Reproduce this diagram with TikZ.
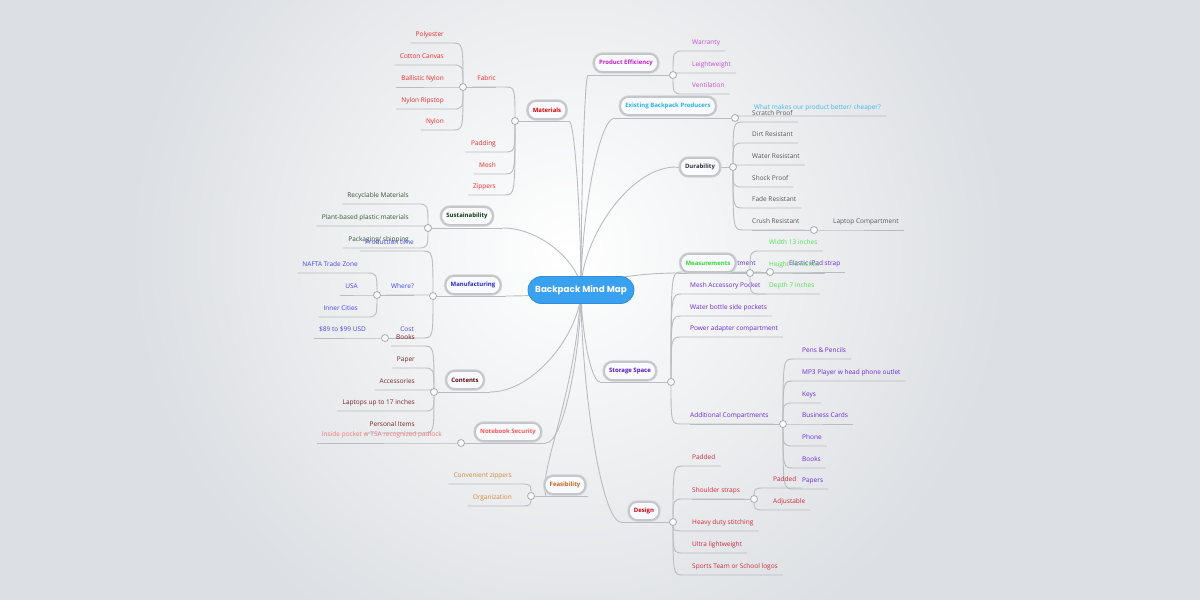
\documentclass[tikz,border=0pt]{standalone}
\usepackage{fontspec}
\setmainfont{Open Sans}
\newfontfamily\hubfont{Poppins}
\usetikzlibrary{calc,positioning}

\definecolor{r220g223b227}{RGB}{220,223,227}
\definecolor{r185g188b192}{RGB}{185,188,192}
\definecolor{r170g172b176}{RGB}{170,172,176}
\definecolor{r196g198b202}{RGB}{196,198,202}
\definecolor{r208g210b214}{RGB}{208,210,214}
\definecolor{r248g250b253}{RGB}{248,250,253}
\definecolor{r58g160b240}{RGB}{58,160,240}
\definecolor{r47g143b222}{RGB}{47,143,222}
\definecolor{r230g0b0}{RGB}{230,0,0}
\definecolor{r245g40b40}{RGB}{245,40,40}
\definecolor{r16g60b16}{RGB}{16,60,16}
\definecolor{r50g90b50}{RGB}{50,90,50}
\definecolor{r40g40b210}{RGB}{40,40,210}
\definecolor{r70g70b240}{RGB}{70,70,240}
\definecolor{r90g10b10}{RGB}{90,10,10}
\definecolor{r120g35b35}{RGB}{120,35,35}
\definecolor{r255g85b85}{RGB}{255,85,85}
\definecolor{r240g120b120}{RGB}{240,120,120}
\definecolor{r200g100b30}{RGB}{200,100,30}
\definecolor{r215g135b55}{RGB}{215,135,55}
\definecolor{r204g30b204}{RGB}{204,30,204}
\definecolor{r200g75b210}{RGB}{200,75,210}
\definecolor{r40g180b235}{RGB}{40,180,235}
\definecolor{r65g185b240}{RGB}{65,185,240}
\definecolor{r50g55b62}{RGB}{50,55,62}
\definecolor{r85g87b92}{RGB}{85,87,92}
\definecolor{r50g220b50}{RGB}{50,220,50}
\definecolor{r80g225b80}{RGB}{80,225,80}
\definecolor{r90g16b200}{RGB}{90,16,200}
\definecolor{r105g40b215}{RGB}{105,40,215}
\definecolor{r204g0b16}{RGB}{204,0,16}
\definecolor{r208g40b56}{RGB}{208,40,56}

\tikzset{
  link/.style={draw=r185g188b192,line width=0.9pt},
  knot/.style={draw=r170g172b176,fill=r248g250b253,line width=0.8pt},
  leaf/.style={inner sep=0pt,font=\fontsize{6.5}{7.5}\selectfont},
  topic/.style={draw=r196g198b202,fill=r248g250b253,line width=1.6pt,
    preaction={draw=r208g210b214,line width=3.4pt},
    rounded corners=8.5pt,minimum height=18pt,inner xsep=5pt,inner ysep=0pt,
    font=\bfseries\fontsize{6}{7}\selectfont},
  hub/.style={draw=r47g143b222,fill=r58g160b240,line width=0.8pt,text=white,
    rounded corners=13.5pt,minimum height=27pt,minimum width=106pt,inner sep=0pt,
    font=\hubfont\bfseries\fontsize{8.8}{10}\selectfont}
}

% leaf on the left of its junction: name, junction, line y, colour, text
\newcommand{\leafL}[5]{%
  \path ($(#2)+(-19,0)$) coordinate (#1-x);%
  \coordinate (#1-a) at (#1-x |- 0,#3);%
  \node[leaf,text=#4,anchor=base east] (#1) at ([yshift=7pt]#1-a) {#5};%
  \draw[link] (#1-a -| #1.west) ++(-5,0) -- ([xshift=8pt]#1-a) .. controls (#2 |- #1-a) .. (#2);%
}
% leaf on the right of its junction
\newcommand{\leafR}[5]{%
  \path ($(#2)+(19,0)$) coordinate (#1-x);%
  \coordinate (#1-a) at (#1-x |- 0,#3);%
  \node[leaf,text=#4,anchor=base west] (#1) at ([yshift=7pt]#1-a) {#5};%
  \draw[link] (#1-a -| #1.east) ++(5,0) -- ([xshift=-8pt]#1-a) .. controls (#2 |- #1-a) .. (#2);%
}
% branch from the hub to the end of a topic line
\newcommand{\trunk}[1]{%
  \draw[link] (hubc) .. controls ($(hubc)!0.4!(hubc |- #1)$) and ($(#1)!0.5!(hubc |- #1)$) .. (#1);%
}

\begin{document}
\begin{tikzpicture}[x=1pt,y=-1pt]
\useasboundingbox (0,0) rectangle (1200,600);

% Filling the background
\fill[r220g223b227] (0,0) rectangle (1200,600);
\begin{scope}
  \clip (0,0) rectangle (1200,600);
  \shade[inner color=white,outer color=r220g223b227] (568,250) circle (440);
\end{scope}

% Placing the junctions
\coordinate (hubc) at (581,290);
\coordinate (matJ) at (515,121);
\coordinate (fabJ) at (463,87);
\coordinate (susJ) at (428,228);
\coordinate (manJ) at (433,296);
\coordinate (whereJ) at (377,295);
\coordinate (costJ) at (385,338);
\coordinate (conJ) at (434,392);
\coordinate (secJ) at (461,443);
\coordinate (feaJ) at (531,496);
\coordinate (effJ) at (673,75);
\coordinate (exiJ) at (735,118);
\coordinate (durJ) at (733,167);
\coordinate (crushJ) at (814,230);
\coordinate (meaJ) at (750,273);
\coordinate (stoJ) at (671,382);
\coordinate (lapJ) at (770,272);
\coordinate (addJ) at (783,424);
\coordinate (desJ) at (673,522);
\coordinate (shoJ) at (754,499);

% Placing the ends of the topic lines
\coordinate (matE) at (569,121);
\coordinate (susE) at (503,228);
\coordinate (manE) at (506,296);
\coordinate (conE) at (490,392);
\coordinate (secE) at (546,443);
\coordinate (feaE) at (546,496);
\coordinate (effE) at (588,75);
\coordinate (exiE) at (615,118);
\coordinate (durE) at (676,167);
\coordinate (meaE) at (678,273);
\coordinate (stoE) at (600,382);
\coordinate (desE) at (621,522);

% Drawing the branches from the hub
\trunk{matE} \trunk{susE} \trunk{manE} \trunk{conE} \trunk{secE}
\trunk{effE} \trunk{exiE} \trunk{durE} \trunk{meaE} \trunk{stoE} \trunk{desE}
\draw[link] (hubc) .. controls (575,400) and (538,470) .. (feaE);

% Drawing the topic lines
\draw[link] (matJ) -- (matE);
\draw[link] (susJ) -- (susE);
\draw[link] (manJ) -- (manE);
\draw[link] (conJ) -- (conE);
\draw[link] (secJ) -- (secE);
\draw[link] (feaJ) -- (588,496);
\draw[link] (effE) -- (effJ);
\draw[link] (exiE) -- (exiJ);
\draw[link] (durE) -- (durJ);
\draw[link] (meaE) -- (meaJ);
\draw[link] (stoE) -- (stoJ);
\draw[link] (desE) -- (desJ);

% Leaves of Materials
\leafL{fabric}{matJ}{87}{r245g40b40}{Fabric}
\draw[link] (fabJ) -- (fabric-a);
\leafL{padding}{matJ}{152}{r245g40b40}{Padding}
\leafL{mesh}{matJ}{174}{r245g40b40}{Mesh}
\leafL{zippers}{matJ}{195}{r245g40b40}{Zippers}
\leafL{polyester}{fabJ}{43}{r245g40b40}{Polyester}
\leafL{canvas}{fabJ}{65}{r245g40b40}{Cotton Canvas}
\leafL{ballistic}{fabJ}{87}{r245g40b40}{Ballistic Nylon}
\leafL{ripstop}{fabJ}{109}{r245g40b40}{Nylon Ripstop}
\leafL{nylon}{fabJ}{130}{r245g40b40}{Nylon}

% Leaves of Sustainability
\leafL{recyclable}{susJ}{204}{r50g90b50}{Recyclable Materials}
\leafL{plantbased}{susJ}{226}{r50g90b50}{Plant-based plastic materials}
\leafL{packaging}{susJ}{248}{r50g90b50}{Packaging/ shipping}

% Leaves of Manufacturing
\leafL{prodtime}{manJ}{251}{r70g70b240}{Production time}
\leafL{where}{manJ}{295}{r70g70b240}{Where?}
\draw[link] (whereJ) -- (where-a);
\leafL{cost}{manJ}{338}{r70g70b240}{Cost}
\draw[link] (costJ) -- (cost-a);
\leafL{nafta}{whereJ}{273}{r70g70b240}{NAFTA Trade Zone}
\leafL{usa}{whereJ}{295}{r70g70b240}{USA}
\leafL{cities}{whereJ}{317}{r70g70b240}{Inner Cities}
\leafL{usd}{costJ}{338}{r70g70b240}{\$89 to \$99 USD}

% Leaves of Contents
\leafL{books}{conJ}{346}{r120g35b35}{Books}
\leafL{paper}{conJ}{368}{r120g35b35}{Paper}
\leafL{accessories}{conJ}{390}{r120g35b35}{Accessories}
\leafL{laptops}{conJ}{411}{r120g35b35}{Laptops up to 17 inches}
\leafL{personal}{conJ}{433}{r120g35b35}{Personal Items}

% Leaves of Notebook Security and Feasibility
\leafL{padlock}{secJ}{443}{r240g120b120}{Inside pocket w TSA recognized padlock}
\leafL{convzip}{feaJ}{484}{r215g135b55}{Convenient zippers}
\leafL{organization}{feaJ}{506}{r215g135b55}{Organization}

% Leaves of Product Efficiency and Existing Backpack Producers
\leafR{warranty}{effJ}{51}{r200g75b210}{Warranty}
\leafR{leightweight}{effJ}{73}{r200g75b210}{Leightweight}
\leafR{ventilation}{effJ}{94}{r200g75b210}{Ventilation}
\leafR{better}{exiJ}{116}{r65g185b240}{What makes our product better/ cheaper?}

% Leaves of Durability
\leafR{scratch}{durJ}{122}{r85g87b92}{Scratch Proof}
\leafR{dirt}{durJ}{143}{r85g87b92}{Dirt Resistant}
\leafR{water}{durJ}{165}{r85g87b92}{Water Resistant}
\leafR{shock}{durJ}{187}{r85g87b92}{Shock Proof}
\leafR{fade}{durJ}{208}{r85g87b92}{Fade Resistant}
\leafR{crush}{durJ}{230}{r85g87b92}{Crush Resistant}
\draw[link] (crush-a) -- (crushJ);
\leafR{laptopcomp}{crushJ}{230}{r85g87b92}{Laptop Compartment}

% Leaves of Storage Space
\leafR{laptopsleeve}{stoJ}{272}{r105g40b215}{Laptop Compartment}
\draw[link] (laptopsleeve-a) -- (lapJ);
\leafR{ipad}{lapJ}{272}{r105g40b215}{Elastic iPad strap}
\leafR{meshpocket}{stoJ}{294}{r105g40b215}{Mesh Accessory Pocket}
\leafR{bottle}{stoJ}{316}{r105g40b215}{Water bottle side pockets}
\leafR{adapter}{stoJ}{337}{r105g40b215}{Power adapter compartment}
\leafR{additional}{stoJ}{424}{r105g40b215}{Additional Compartments}
\draw[link] (additional-a) -- (addJ);
\leafR{pens}{addJ}{359}{r105g40b215}{Pens \& Pencils}
\leafR{mp3}{addJ}{381}{r105g40b215}{MP3 Player w head phone outlet}
\leafR{keys}{addJ}{403}{r105g40b215}{Keys}
\leafR{cards}{addJ}{424}{r105g40b215}{Business Cards}
\leafR{phone}{addJ}{446}{r105g40b215}{Phone}
\leafR{storebooks}{addJ}{468}{r105g40b215}{Books}
\leafR{papers}{addJ}{489}{r105g40b215}{Papers}

% Leaves of Measurements
\leafR{width}{meaJ}{251}{r80g225b80}{Width 13 inches}
\leafR{height}{meaJ}{273}{r80g225b80}{Height 18 inches}
\leafR{depth}{meaJ}{294}{r80g225b80}{Depth 7 inches}

% Leaves of Design
\leafR{padded}{desJ}{466}{r208g40b56}{Padded}
\leafR{shoulder}{desJ}{499}{r208g40b56}{Shoulder straps}
\draw[link] (shoulder-a) -- (shoJ);
\leafR{strappadded}{shoJ}{488}{r208g40b56}{Padded}
\leafR{adjustable}{shoJ}{510}{r208g40b56}{Adjustable}
\leafR{stitching}{desJ}{531}{r208g40b56}{Heavy duty stitching}
\leafR{ultralight}{desJ}{553}{r208g40b56}{Ultra lightweight}
\leafR{logos}{desJ}{575}{r208g40b56}{Sports Team or School logos}

% Marking the junctions by circles
\foreach \j in {matJ,fabJ,susJ,manJ,whereJ,costJ,conJ,secJ,feaJ,effJ,exiJ,durJ,crushJ,meaJ,stoJ,lapJ,addJ,desJ,shoJ}
  \draw[knot] (\j) circle (3.5);

% Drawing the topics
\node[topic,text=r230g0b0] (materials) at (547,110) {Materials};
\node[topic,text=r16g60b16] (sustainability) at (467,216) {Sustainability};
\node[topic,text=r40g40b210] (manufacturing) at (473,285) {Manufacturing};
\node[topic,text=r90g10b10] (contents) at (465,380) {Contents};
\node[topic,text=r255g85b85] (security) at (508,432) {Notebook Security};
\node[topic,text=r200g100b30] (feasibility) at (565,485) {Feasibility};
\node[topic,text=r204g30b204] (efficiency) at (626,63) {Product Efficiency};
\node[topic,text=r40g180b235] (producers) at (668,106) {Existing Backpack Producers};
\node[topic,text=r50g55b62] (durability) at (700,167) {Durability};
\node[topic,text=r50g220b50] (measurements) at (708,263) {Measurements};
\node[topic,text=r90g16b200] (storage) at (630,371) {Storage Space};
\node[topic,text=r204g0b16] (design) at (644,511) {Design};

% Drawing the hub
\node[hub] (hub) at (hubc) {Backpack Mind Map};
\end{tikzpicture}
\end{document}
